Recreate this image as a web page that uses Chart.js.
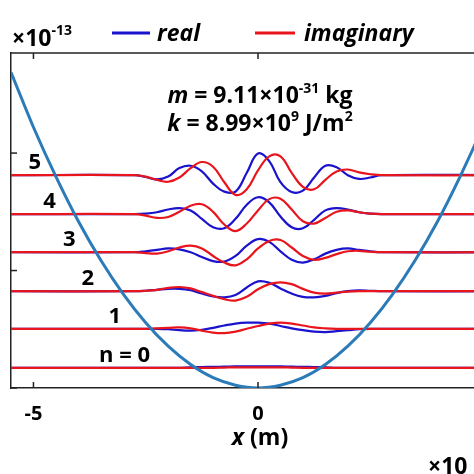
<!DOCTYPE html>
<html><head><meta charset="utf-8">
<script src="https://cdn.jsdelivr.net/npm/chart.js@4/dist/chart.umd.min.js"></script>
<style>html,body{margin:0;padding:0;width:474px;height:474px;overflow:hidden;background:#fff}
#wrap{position:absolute;left:-40px;top:0;width:560px;height:474px}</style></head>
<body><div id="wrap"><canvas id="c"></canvas></div>
<script>
const gridX=[-2.75,-2.5,-2.25,-2,-1.75,-1.5,-1.25,-1,-0.75,-0.5,-0.25,0,0.25,0.5,0.75,1,1.25,1.5,1.75,2,2.25,2.5,2.75];
const levels=[0.43,1.26,2.06,2.89,3.70,4.53];
const levelLabels=["n = 0","1","2","3","4","5"];
const realParts=[
[0,0,0,0,0,0.01,0.015,0.02,0.025,0.03,0.03,0.03,0.03,0.03,0.025,0.02,0.015,0.01,0,0,0,0,0],
[0,0,0,-0.01,-0.03,-0.04,-0.02,0.02,0.07,0.11,0.13,0.13,0.11,0.06,0.01,-0.03,-0.06,-0.07,-0.05,-0.03,-0.01,0,0],
[0,0.01,0.03,0.05,0.05,0.02,-0.05,-0.11,-0.13,-0.08,0.08,0.21,0.18,0.06,-0.05,-0.12,-0.13,-0.1,-0.04,0,0.02,0.01,0],
[0,0.02,0.05,0.08,0.06,0,-0.1,-0.19,-0.2,-0.08,0.14,0.28,0.22,0.02,-0.16,-0.22,-0.15,-0.03,0.05,0.08,0.05,0.02,0],
[0,0.01,0.04,0.1,0.13,0.08,-0.1,-0.28,-0.3,-0.1,0.2,0.36,0.25,-0.05,-0.28,-0.3,-0.12,0.08,0.13,0.1,0.04,0.01,0],
[0,-0.04,-0.09,-0.03,0.15,0.2,0.08,-0.18,-0.35,-0.35,0.05,0.46,0.3,-0.15,-0.36,-0.33,-0.05,0.2,0.17,0,-0.08,-0.05,0]];
const imagParts=[
[0,0,0,0,0,0,0,0,0.005,0.01,0.01,0.01,0.01,0.01,0.005,0,0,0,0,0,0,0,0],
[0,0,0.01,0.02,0.03,0.01,-0.04,-0.08,-0.09,-0.06,0,0.06,0.11,0.13,0.11,0.07,0.03,0.01,0,0,0,0,0],
[0,0.01,0.03,0.07,0.09,0.06,-0.02,-0.1,-0.17,-0.2,-0.12,0.04,0.15,0.19,0.15,0.05,-0.03,-0.05,-0.03,-0.01,0,0,0],
[0,-0.02,-0.03,0.02,0.1,0.14,0.08,-0.08,-0.22,-0.28,-0.15,0.08,0.24,0.26,0.1,-0.08,-0.16,-0.12,-0.04,0.02,0.03,0.01,0],
[0,-0.03,-0.08,-0.06,0.05,0.18,0.21,0.05,-0.22,-0.36,-0.2,0.08,0.32,0.33,0.1,-0.15,-0.2,-0.08,0.05,0.08,0.04,0.01,0],
[0,-0.03,-0.1,-0.14,-0.05,0.15,0.28,0.18,-0.15,-0.42,-0.3,0.1,0.4,0.4,0.05,-0.25,-0.3,-0.1,0.08,0.12,0.06,0.02,0]];
const potX=[-5.5,-5,-4.5,-4,-3.5,-3,-2.5,-2,-1.5,-1,-0.5,0,0.5,1,1.5,2,2.5,3,3.5,4,4.5,5,5.5];
const potY=[6.72,5.55,4.5,3.55,2.72,2.0,1.39,0.89,0.5,0.22,0.06,0,0.06,0.22,0.5,0.89,1.39,2.0,2.72,3.55,4.5,5.55,6.72];
const xTicks=[-5,0,5];
const yTicks=[0,2.5,5];
const X_MIN=-5.5,X_MAX=5.5,Y_MIN=0,Y_MAX=7.13;

function series(lv,dev){const p=[{x:X_MIN,y:lv}];gridX.forEach((x,i)=>p.push({x:x,y:lv+dev[i]}));p.push({x:X_MAX,y:lv});return p;}
const datasets=[{data:potX.map((x,i)=>({x:x,y:potY[i]})),borderColor:'#2b7bb9',borderWidth:3,order:0,cubicInterpolationMode:'monotone'}];
levels.forEach((lv,n)=>{
 datasets.push({data:series(lv,imagParts[n]),borderColor:'#e8151d',borderWidth:2.2,order:1,tension:0.4});
 datasets.push({data:series(lv,realParts[n]),borderColor:'#1a12cc',borderWidth:2.2,order:2,tension:0.4});
});
const txt={id:'txt',afterDraw(ch){
 const c=ch.ctx,xs=ch.scales.x,ys=ch.scales.y,a=ch.chartArea;
 c.save();c.strokeStyle='#222';c.lineWidth=1.5;
 c.beginPath();c.moveTo(a.left,a.top);c.lineTo(a.right,a.top);c.stroke();
 xTicks.forEach(v=>{const p=xs.getPixelForValue(v);c.beginPath();c.moveTo(p,a.bottom);c.lineTo(p,a.bottom-6);c.moveTo(p,a.top);c.lineTo(p,a.top+6);c.stroke();});
 yTicks.forEach(v=>{const p=ys.getPixelForValue(v);c.beginPath();c.moveTo(a.left,p);c.lineTo(a.left+6,p);c.stroke();});
 c.fillStyle='#000';c.textBaseline='alphabetic';
 const B='bold 22px "Open Sans"';
 levels.forEach((lv,n)=>{const lx=[-2.97,-3.19,-3.79,-4.2,-4.64,-4.97][n];c.font=B;c.textAlign='center';c.fillText(levelLabels[n],xs.getPixelForValue(lx),ys.getPixelForValue(lv)-6);});
 function run(parts,x,y){c.textAlign='left';let cx=x;parts.forEach(([t,f,dy])=>{c.font=f;c.fillText(t,cx,y+(dy||0));cx+=c.measureText(t).width;});return cx;}
 function width(parts){let w=0;parts.forEach(([t,f])=>{c.font=f;w+=c.measureText(t).width;});return w;}
 const I='italic bold 23px "Open Sans"',N='bold 23px "Open Sans"',S='bold 14px "Open Sans"';
 const l1=[['m',I],[' = 9.11×10',N],['-31',S,-10],[' kg',N]];
 const l2=[['k',I],[' = 8.99×10',N],['9',S,-10],[' J/m',N],['2',S,-10]];
 const cx=xs.getPixelForValue(0)+2;
 run(l1,cx-width(l1)/2,103);run(l2,cx-width(l2)/2,131);
 run([['×10',N],['-13',S,-11]],52,46);
 c.lineWidth=3;c.strokeStyle='#1a12cc';c.beginPath();c.moveTo(152,33);c.lineTo(190,33);c.stroke();
 c.strokeStyle='#e8151d';c.beginPath();c.moveTo(295,33);c.lineTo(335,33);c.stroke();
 c.fillStyle='#000';run([['real',I]],197,41);run([['imaginary',I]],344,41);
 const xt=width([['x',I],[' (m)',N]]);run([['x',I],[' (m)',N]],xs.getPixelForValue(0)-xt/2+2,445);
 run([['×10',N]],468,474);
 c.restore();}};
new Chart(document.getElementById('c'),{type:'line',data:{datasets},plugins:[txt],
 options:{responsive:true,maintainAspectRatio:false,animation:false,
 layout:{padding:{left:0,top:53,right:15,bottom:0}},
 elements:{point:{radius:0}},
 plugins:{legend:{display:false},tooltip:{enabled:false}},
 scales:{
  x:{type:'linear',min:X_MIN,max:X_MAX,afterFit:s=>{s.height=86;},afterBuildTicks:s=>{s.ticks=xTicks.map(v=>({value:v}));},
   grid:{display:false},border:{display:true,color:'#222',width:1.5},
   ticks:{color:'#000',font:{family:'"Open Sans"',size:20,weight:'bold'},padding:6}},
  y:{type:'linear',min:Y_MIN,max:Y_MAX,afterFit:s=>{s.width=51;},afterBuildTicks:s=>{s.ticks=yTicks.map(v=>({value:v}));},
   grid:{display:false},border:{display:true,color:'#222',width:1.5},
   ticks:{color:'#000',font:{family:'"Open Sans"',size:20,weight:'bold'},padding:4}}
 }}});
</script></body></html>
